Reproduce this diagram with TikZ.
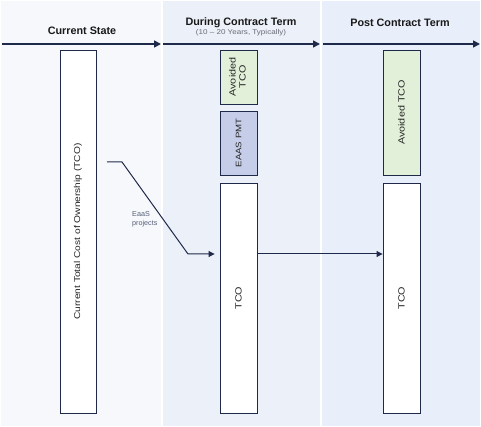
\documentclass[tikz,border=0pt]{standalone}
\usepackage{fontspec}
\setmainfont{Liberation Sans}
\usepackage{graphicx}
\usepackage{tikz}
\usetikzlibrary{arrows.meta,positioning,calc,shadows}
\definecolor{eaasNavy}{RGB}{31,42,74}
\definecolor{panelA}{RGB}{246,248,252}
\definecolor{panelB}{RGB}{236,240,248}
\definecolor{panelC}{RGB}{233,239,250}
\definecolor{avoidGreen}{RGB}{226,240,217}
\definecolor{pmtBlue}{RGB}{197,205,232}
\definecolor{subGray}{RGB}{105,108,120}
% upright text, stretched along its own line
\newcommand{\vtxt}[3]{\rotatebox{90}{\scalebox{#2}[1]{\fontsize{#1}{#1}\selectfont #3}}}

\begin{document}
\begin{tikzpicture}[x=1pt,y=-1pt,
box/.style={draw=eaasNavy,line width=0.9pt,fill=white,inner sep=0pt,text=black!85,
  drop shadow={shadow xshift=0.7pt,shadow yshift=-0.7pt,fill=eaasNavy!45,opacity=1}},
title/.style={font=\fontsize{10.8}{12}\selectfont\bfseries,text=black!90},
arr/.style={-{Triangle[length=6pt,width=6pt]},draw=eaasNavy,line width=1pt},
axisarr/.style={-{Triangle[length=7pt,width=7pt]},draw=eaasNavy,line width=1.6pt}
]
\useasboundingbox (0,0) rectangle (481,427);
\fill[white] (0,0) rectangle (481,427);
% panels
\fill[panelA] (1,1) rectangle (161,426);
\fill[panelB] (163,1) rectangle (320,426);
\fill[panelC] (322,1) rectangle (480,426);

% column titles
\node[title] (tCur) at (82,31) {Current State};
\node[title] (tDur) at (241,22.5) {During Contract Term};
\node[text=subGray,inner sep=0pt] (tSub) at (241,33) {\scalebox{1.15}[1]{\fontsize{7}{8}\selectfont (10 -- 20 Years, Typically)}};
\node[title] (tPost) at (400,23) {Post Contract Term};

% time line
\coordinate (a0) at (2,44);  \coordinate (a1) at (161,44);
\coordinate (b0) at (163,44); \coordinate (b1) at (320,44);
\coordinate (c0) at (323,44); \coordinate (c1) at (480,44);
\foreach \s/\e in {a0/a1,b0/b1,c0/c1}
\draw[axisarr] (\s) -- (\e);

% boxes
\node[box,minimum width=36pt,minimum height=363pt] (cur) at (78,231.5) {\vtxt{8.5}{1.2}{Current Total Cost of Ownership (TCO)}};
\node[box,fill=avoidGreen,minimum width=37pt,minimum height=54pt] (avM) at (238.5,77)
  {\vtxt{9}{1.2}{\fontsize{9}{11}\selectfont\begin{tabular}{@{}c@{}}Avoided\\[-1pt]TCO\end{tabular}}};
\node[box,fill=pmtBlue,minimum width=37pt,minimum height=64pt] (pmt) at (238.5,143) {\vtxt{8}{1.2}{EAAS PMT}};
\node[box,minimum width=37pt,minimum height=230pt] (tcoM) at (238.5,298) {\vtxt{9}{1.2}{TCO}};
\node[box,fill=avoidGreen,minimum width=37pt,minimum height=125pt] (avP) at (401.5,112.5) {\vtxt{9}{1.2}{Avoided TCO}};
\node[box,minimum width=37pt,minimum height=230pt] (tcoP) at (401.5,298) {\vtxt{9}{1.2}{TCO}};

% connectors
\coordinate (src) at (107,162);
\coordinate (knee) at (122,162);
\coordinate (foot) at (188,254);
\draw[arr,shorten >=5pt] (src) -- (knee) -- (foot) -- (tcoM.west |- foot);
\node[font=\fontsize{7.2}{8.5}\selectfont,text=eaasNavy!75,align=left,anchor=west,inner sep=0pt] (lbl) at (132,219) {EaaS\\projects};
\draw[arr] (tcoM.east |- foot) -- (tcoP.west |- foot);
\end{tikzpicture}
\end{document}
